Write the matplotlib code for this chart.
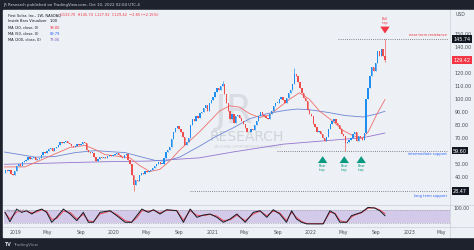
import pandas as pd
import matplotlib
matplotlib.use('Agg')
import matplotlib.pyplot as plt
from matplotlib.lines import Line2D
from matplotlib.patches import Rectangle

W, H = 474, 251

# weekly closes, one per Monday starting 2018-11-26
first_week = '2018-11-26'
closes = [
    44.5,
    43.5, 44.5, 41.5, 40.5, 44.0,
    # 2019
    47.5, 49.0, 48.0, 50.5,
    51.5, 52.0, 54.5, 53.0,
    53.5, 54.5, 52.5, 53.0,
    54.0, 56.0, 58.5, 57.5, 59.0,
    60.5, 61.5, 59.0, 61.5,
    62.5, 64.0, 66.0, 65.5,
    66.0, 67.0, 65.5, 64.5, 63.0,
    62.0, 63.0, 64.5, 63.5,
    64.5, 66.0, 65.5, 60.0, 58.5,
    57.5, 58.0, 55.0, 51.5,
    53.0, 54.5, 53.5, 55.0,
    54.0, 55.5, 56.0, 55.5, 56.5,
    # 2020
    57.0, 58.0, 56.5, 55.0,
    53.5, 56.0, 57.0, 52.0,
    49.0, 41.0, 33.0, 37.0, 36.0,
    40.5, 42.0, 41.5, 44.0,
    43.0, 44.0, 44.5, 46.0,
    47.5, 49.0, 50.5, 49.5, 49.5,
    54.0, 58.5, 60.0, 62.5,
    68.5, 74.0, 77.0, 78.5, 76.5,
    73.5, 70.0, 63.5, 66.0,
    69.0, 79.0, 84.0, 82.0,
    86.0, 85.0, 88.5, 89.5, 92.0,
    95.0, 90.0, 96.5, 98.5,
    # 2021
    101.0, 104.5, 108.0, 106.5,
    109.0, 111.0, 103.0, 96.0,
    90.0, 84.0, 88.0, 80.5, 86.0,
    87.0, 85.0, 82.0, 80.0,
    77.0, 74.0, 73.5, 76.0, 75.5,
    79.0, 82.0, 86.5, 89.0,
    87.0, 86.5, 85.0, 84.0,
    88.0, 90.0, 93.5, 96.0, 96.5,
    99.0, 101.0, 98.5, 96.0,
    100.0, 104.0, 106.0, 110.5,
    118.5, 117.0, 112.0, 108.0, 104.0,
    100.0, 98.0, 91.0, 87.5,
    # 2022
    86.0, 80.0, 78.0, 74.0, 75.0,
    72.0, 69.0, 67.0, 70.0,
    76.0, 80.0, 82.5, 84.0,
    81.0, 79.0, 76.5, 72.5,
    71.0, 65.5, 66.0, 68.0, 69.5,
    72.0, 74.0, 67.0, 71.0,
    69.0, 67.5, 73.0, 99.0,
    108.0, 117.0, 124.0, 121.0, 127.0,
    136.0, 132.0, 138.0, 132.27,
    129.42,
]
open_fix = {'2018-11-26': 42.0, '2022-10-03': 132.70}
high_fix = {'2021-02-08': 113.0, '2021-11-01': 123.0, '2022-10-03': 145.74}
low_fix = {'2020-03-16': 28.47, '2022-05-09': 59.60, '2022-10-03': 127.92}

ma20_dates = ['2018-11-21', '2019-02-07', '2019-04-04', '2019-05-29', '2019-07-24',
              '2019-09-17', '2019-10-24', '2019-11-30', '2020-01-24', '2020-03-01',
              '2020-04-07', '2020-05-14', '2020-06-20', '2020-07-27', '2020-09-02',
              '2020-10-09', '2020-11-15', '2020-12-22', '2021-01-28', '2021-03-06',
              '2021-04-12', '2021-05-19', '2021-06-25', '2021-08-01', '2021-09-07',
              '2021-10-14', '2021-11-20', '2021-12-27', '2022-02-02', '2022-03-25',
              '2022-05-01', '2022-06-07', '2022-07-11', '2022-08-02', '2022-09-04',
              '2022-10-03']
ma20_vals = [47.0, 47.0, 52.0, 57.0, 62.0, 63.5, 60.5, 56.5, 55.0, 54.0,
             48.0, 43.5, 45.0, 51.5, 60.0, 67.0, 74.0, 82.0, 90.0, 94.0,
             93.0, 88.0, 85.0, 87.0, 93.0, 99.0, 104.0, 99.0, 90.0, 82.0,
             75.0, 71.0, 69.0, 74.0, 88.0, 98.80]

ma50_dates = ['2018-11-21', '2019-01-19', '2019-03-16', '2019-05-29', '2019-08-11',
              '2019-10-24', '2020-01-07', '2020-02-13', '2020-04-07', '2020-06-03',
              '2020-07-10', '2020-09-02', '2020-11-15', '2021-01-11', '2021-03-19',
              '2021-05-19', '2021-07-23', '2021-09-28', '2021-11-12', '2021-12-27',
              '2022-03-03', '2022-05-09', '2022-07-14', '2022-08-28', '2022-10-03']
ma50_vals = [58.5, 56.5, 54.5, 55.0, 58.0, 59.5, 58.5, 58.0, 55.0, 52.0,
             51.5, 54.5, 63.0, 70.0, 77.0, 84.0, 88.0, 90.5, 91.5, 91.0,
             89.0, 86.5, 85.4, 87.5, 89.79]

ma200_dates = ['2018-11-21', '2019-05-29', '2019-11-30', '2020-05-14', '2020-11-15',
               '2021-03-19', '2021-09-21', '2022-02-16', '2022-07-14', '2022-10-03']
ma200_vals = [49.0, 50.0, 51.0, 51.5, 54.0, 58.5, 64.5, 67.0, 69.5, 73.06]

stoch_dates = ['2018-11-25', '2018-12-13', '2019-01-07', '2019-01-25', '2019-02-13',
               '2019-03-04', '2019-03-22', '2019-04-10', '2019-04-28', '2019-05-17',
               '2019-06-04', '2019-06-29', '2019-07-24', '2019-08-18', '2019-09-11',
               '2019-09-30', '2019-10-18', '2019-11-12', '2019-12-19', '2020-01-13',
               '2020-02-13', '2020-03-08', '2020-03-27', '2020-04-15', '2020-05-09',
               '2020-05-28', '2020-06-21', '2020-07-16', '2020-08-22', '2020-09-16',
               '2020-10-11', '2020-11-05', '2020-11-29', '2020-12-24', '2021-01-18',
               '2021-02-11', '2021-03-08', '2021-04-02', '2021-05-03', '2021-06-02',
               '2021-06-27', '2021-07-22', '2021-08-15', '2021-09-08', '2021-10-03',
               '2021-10-22', '2021-11-09', '2021-11-28', '2021-12-17', '2022-01-29',
               '2022-02-16', '2022-03-13', '2022-04-01', '2022-04-19', '2022-05-14',
               '2022-06-01', '2022-06-19', '2022-07-08', '2022-08-01', '2022-08-26',
               '2022-09-14', '2022-10-03']
stoch_k = [70, 25, 86, 70, 78, 62, 78, 86, 70, 22,
           46, 86, 62, 30, 70, 22, 22, 70, 78, 54,
           22, 22, 54, 86, 70, 83, 62, 83, 78, 22,
           86, 46, 57, 62, 46, 22, 38, 62, 22, 70,
           78, 46, 83, 62, 22, 78, 38, 22, 14, 14,
           14, 78, 62, 22, 22, 54, 62, 70, 94, 91,
           78, 54]
stoch_d = [68, 38, 72, 76, 74, 68, 72, 82, 76, 36,
           40, 76, 70, 38, 60, 30, 24, 62, 76, 60,
           30, 22, 44, 78, 76, 80, 68, 80, 80, 32,
           78, 56, 54, 60, 52, 30, 34, 56, 30, 62,
           76, 54, 76, 68, 30, 70, 46, 26, 16, 15,
           16, 70, 66, 30, 22, 48, 60, 68, 90, 92,
           82, 64]

levels = {'resistance': 145.74, 'intermediate': 59.60, 'long_term': 28.47}
last_close = 129.42

price_ticks = [150, 140, 120, 110, 100, 90, 80, 70, 50, 40]
time_ticks = ['2019-01-01', '2019-05-01', '2019-09-01', '2020-01-01', '2020-05-01',
              '2020-09-01', '2021-01-01', '2021-05-01', '2021-09-01', '2022-01-01',
              '2022-05-01', '2022-09-01', '2023-01-01', '2023-05-01']
time_labels = ['2019', 'May', 'Sep', '2020', 'May', 'Sep', '2021', 'May', 'Sep',
               '2022', 'May', 'Sep', '2023', 'May']

UP, DOWN = '#1e8ff0', '#ef4f4c'
DARK, BG = '#1e222d', '#edf0f4'
GREEN = '#089981'
ARROW = 'simple,head_length=0.55,head_width=0.75,tail_width=0.38'


def fx(x):
    return x / W


def fy(y):
    return 1 - y / H


fig = plt.figure(figsize=(W / 100, H / 100), dpi=100, facecolor=DARK)
fig.add_artist(Rectangle((fx(3), fy(238)), fx(W - 3), (238 - 11) / H,
                         transform=fig.transFigure, color=BG, zorder=-5))

ax = fig.add_axes([fx(4), fy(206), 446 / W, 195 / H], facecolor='none')
axs = fig.add_axes([fx(4), fy(228), 446 / W, 22 / H], facecolor='none', sharex=ax)

# candles
dates = pd.date_range(first_week, periods=len(closes), freq='7D')
opens = [closes[0]] + closes[:-1]
for i, d in enumerate(dates):
    key = d.strftime('%Y-%m-%d')
    if key in open_fix:
        opens[i] = open_fix[key]
highs, lows, cols = [], [], []
for i, d in enumerate(dates):
    key = d.strftime('%Y-%m-%d')
    o, c = opens[i], closes[i]
    highs.append(high_fix.get(key, max(o, c)))
    lows.append(low_fix.get(key, min(o, c)))
    cols.append(UP if c >= o else DOWN)
bottoms = [min(o, c) for o, c in zip(opens, closes)]
heights = [max(abs(c - o), 0.6) for o, c in zip(opens, closes)]
ax.vlines(dates, lows, highs, colors=cols, lw=0.45, zorder=3)
ax.bar(dates, heights, bottom=bottoms, width=5.0, color=cols, linewidth=0, zorder=4)

# moving averages
ax.plot(pd.to_datetime(ma200_dates), ma200_vals, color='#9575cd', lw=0.6, zorder=2)
ax.plot(pd.to_datetime(ma50_dates), ma50_vals, color='#6c86d6', lw=0.6, zorder=2)
ax.plot(pd.to_datetime(ma20_dates), ma20_vals, color='#ef6f6c', lw=0.6, zorder=2)

ax.set_xlim(pd.Timestamp('2018-11-21'), pd.Timestamp('2023-06-01'))
ax.set_ylim(17.7, 167.7)
ax.yaxis.tick_right()
ax.set_yticks(price_ticks)
ax.set_yticklabels([f'{v:.2f}' for v in price_ticks])
ax.tick_params(axis='y', length=0, pad=3.2, labelsize=3.5, labelcolor='#4a4d57')
ax.tick_params(axis='x', length=0, labelbottom=False)
for a in (ax, axs):
    for s in a.spines.values():
        s.set_visible(False)

# horizontal levels
line_end = pd.Timestamp('2023-05-25')
starts = {'resistance': '2022-04-12', 'intermediate': '2021-08-29', 'long_term': '2020-10-11'}
for name, lvl in levels.items():
    ax.plot([pd.Timestamp(starts[name]), line_end], [lvl, lvl], color='#5d606b',
            lw=0.6, ls=(0, (1, 1.6)), zorder=1)
fig.text(fx(447), fy(35.5), 'near term resistance', color='#f23645', fontsize=2.6,
         ha='right', va='center')
fig.text(fx(447), fy(154.5), 'intermediate support', color='#2962ff', fontsize=2.6,
         ha='right', va='center')
fig.text(fx(447), fy(196), 'long term support', color='#2962ff', fontsize=2.6,
         ha='right', va='center')

# price boxes on the right scale
for val, fc in [(levels['resistance'], '#131722'), (last_close, '#f23645'),
                (levels['intermediate'], '#131722'), (levels['long_term'], '#131722')]:
    ax.annotate(f'{val:.2f}', xy=(1.0, val), xycoords=('axes fraction', 'data'),
                xytext=(2.2, 0), textcoords='offset points', ha='left', va='center',
                fontsize=3.5, color='white', zorder=6,
                bbox=dict(boxstyle='square,pad=0.3', fc=fc, ec='none'))
fig.text(fx(456), fy(15), 'USD', color='#4a4d57', fontsize=3.3, va='center')

# arrows
ax.annotate('', xy=(pd.Timestamp('2022-10-03'), 147.5), xytext=(pd.Timestamp('2022-10-03'), 155.8),
            arrowprops=dict(arrowstyle=ARROW, color='#f23645', lw=0, mutation_scale=9), zorder=7)
ax.text(pd.Timestamp('2022-10-03'), 160.0, 'Bull\ntrap', color='#f23645', fontsize=2.3,
        ha='center', va='center', linespacing=1.0)
for d in ['2022-02-14', '2022-05-05', '2022-07-07']:
    ax.annotate('', xy=(pd.Timestamp(d), 57.4), xytext=(pd.Timestamp(d), 50.6),
                arrowprops=dict(arrowstyle=ARROW, color=GREEN, lw=0, mutation_scale=9), zorder=7)
    ax.text(pd.Timestamp(d), 46.6, 'Bear\ntrap', color=GREEN, fontsize=2.3,
            ha='center', va='center', linespacing=1.0)

# watermark
fig.text(fx(234), fy(112), 'JR', color='#c9cdd6', fontsize=28, ha='center', va='center',
         alpha=0.55, zorder=-1)
fig.text(fx(247), fy(137.5), 'RESEARCH', color='#c3c7d0', fontsize=10, ha='center',
         va='center', alpha=0.7, zorder=-1)
fig.text(fx(248), fy(146.5), 'UNLOCKING OPPORTUNITIES IN THE MARKETS', color='#c3c7d0',
         fontsize=2.2, ha='center', va='center', alpha=0.8, zorder=-1)

# stochastic pane
sdates = pd.to_datetime(stoch_dates)
axs.axhspan(20, 80, color='#b39ddb', alpha=0.45, lw=0)
for lvl in (20, 80):
    axs.axhline(lvl, color='#8c8f9a', lw=0.4, ls=(0, (2, 2)))
axs.plot(sdates, stoch_d, color='#f23645', lw=0.6)
axs.plot(sdates, stoch_k, color='#131722', lw=0.7)
axs.set_ylim(-1, 105.8)
axs.set_yticks([])
axs.set_xticks(pd.to_datetime(time_ticks))
axs.set_xticklabels(time_labels)
axs.tick_params(axis='x', length=0, pad=1.8, labelsize=3.3, labelcolor='#4a4d57')
fig.text(fx(7), fy(211), 'Stoch 14 3 3', color='#9598a1', fontsize=2.3, va='center')
fig.text(fx(453), fy(208), '100.00', color='#4a4d57', fontsize=3.3, va='center')

# separators
for y in (206, 228):
    fig.add_artist(Line2D([fx(3), 1], [fy(y), fy(y)], color='#d1d4dc', lw=0.6))
fig.add_artist(Line2D([fx(450), fx(450)], [fy(238), fy(11)], color='#d1d4dc', lw=0.6))

# header and legend
fig.text(fx(3), fy(5), 'JR Research published on TradingView.com, Oct 10, 2022 02:04 UTC-4',
         color='#d1d4dc', fontsize=2.8, va='center')
fig.text(fx(8), fy(15.5), 'First Solar, Inc., 1W, NASDAQ', color='#131722', fontsize=2.6,
         va='center')
fig.text(fx(60), fy(15.5), 'O132.70  H145.74  L127.92  C129.42  \u22122.85 (\u22122.15%)',
         color='#f23645', fontsize=2.6, va='center')
legend_rows = [('Inside Bars Visualizer', '1.00', '#131722'),
               ('MA (20, close, 0)', '98.80', '#f23645'),
               ('MA (50, close, 0)', '89.79', '#2962ff'),
               ('MA (200, close, 0)', '73.06', '#7e57c2')]
for i, (lab, val, c) in enumerate(legend_rows):
    y = 21.5 + i * 6.3
    fig.text(fx(8), fy(y), lab, color='#131722', fontsize=2.6, va='center')
    fig.text(fx(50), fy(y), val, color=c, fontsize=2.6, va='center')

# footer
fig.text(fx(4), fy(245), 'TV', color='#d1d4dc', fontsize=3.4, weight='bold', va='center')
fig.text(fx(13), fy(245), 'TradingView', color='#9598a1', fontsize=3.0, va='center')

fig.savefig('out.png', dpi=100, facecolor=DARK)
